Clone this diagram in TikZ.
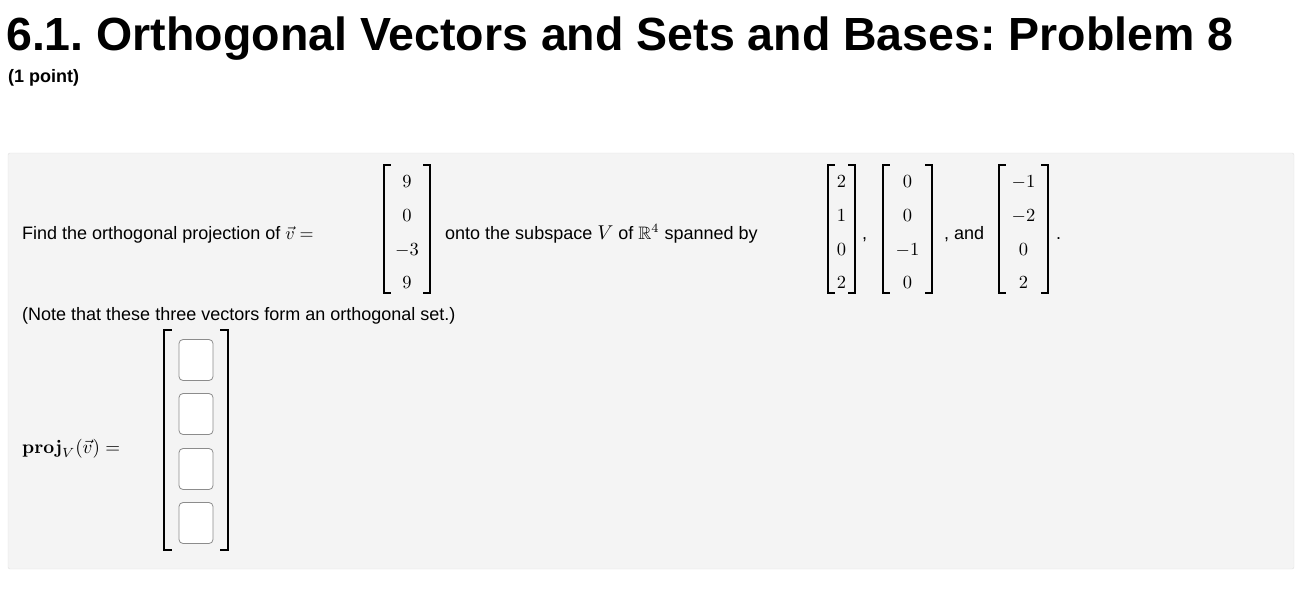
\documentclass[tikz,border=0pt]{standalone}
\usepackage{amssymb}
\usepackage[no-math]{fontspec}
\setmainfont{Liberation Sans}
\frenchspacing
\newcommand\mymath[2][1.8]{\scalebox{#1}{\normalsize$#2$}}
\begin{document}
\begin{tikzpicture}[x=1pt,y=-1pt,
  txt/.style={anchor=base west,inner sep=0pt,font=\fontsize{18}{20}\selectfont},
  ent/.style={inner sep=0pt,anchor=base},
  brk/.style={line width=1.3pt,line cap=rect},
  inbox/.style={draw=black!45,fill=white,rounded corners=4pt,line width=0.8pt,minimum width=34pt,minimum height=41pt,inner sep=0pt}]
\useasboundingbox (0,0) rectangle (1300,595);
\node[anchor=base west,inner sep=0pt,font=\fontsize{46.5}{50}\selectfont\bfseries] (title) at (6,50) {6.1. Orthogonal Vectors and Sets and Bases: Problem 8};
\node[anchor=base west,inner sep=0pt,font=\fontsize{18}{20}\selectfont\bfseries] (pts) at (8,82) {(1 point)};
\draw[draw=black!12,fill=black!4.5,rounded corners=2pt] (8,153) rectangle (1294,569);
\newcommand\vbrk[3]{%
  \draw[brk] (#1+6,165) -- (#1,165) -- (#1,293) -- (#1+6,293);
  \draw[brk] (#2-6,165) -- (#2,165) -- (#2,293) -- (#2-6,293);
  \foreach \e [count=\i] in {#3} {\node[ent] at ({(#1+#2)/2},{154+\i*33.7}) {\mymath[1.85]{\e}};}}
\node[txt] (t1) at (22,239) {Find the orthogonal projection of \mymath{\vec{v}=}};
\vbrk{384}{430}{9,0,-3,9}
\node[txt] (t2) at (445,239) {onto the subspace \mymath[2]{V} of \mymath{\mathbb{R}^4} spanned by};
\vbrk{828}{855}{2,1,0,2}
\node[txt] (c1) at (862,239) {,};
\vbrk{883}{932}{0,0,-1,0}
\node[txt] (c2) at (944,239) {, and};
\vbrk{999}{1048}{-1,-2,0,2}
\node[txt] (c3) at (1056,239) {.};
\node[txt] (note) at (22,320) {(Note that these three vectors form an orthogonal set.)};
\node[anchor=base west,inner sep=0pt] (proj) at (22,453) {\mymath[1.9]{\mathbf{proj}_{V}(\vec{v})=}};
\draw[brk] (171,330) -- (164,330) -- (164,550) -- (171,550);
\draw[brk] (221,330) -- (228,330) -- (228,550) -- (221,550);
\node[inbox] (b1) at (196,360) {};
\node[inbox] (b2) at (196,414) {};
\node[inbox] (b3) at (196,469) {};
\node[inbox] (b4) at (196,523) {};
\end{tikzpicture}
\end{document}
